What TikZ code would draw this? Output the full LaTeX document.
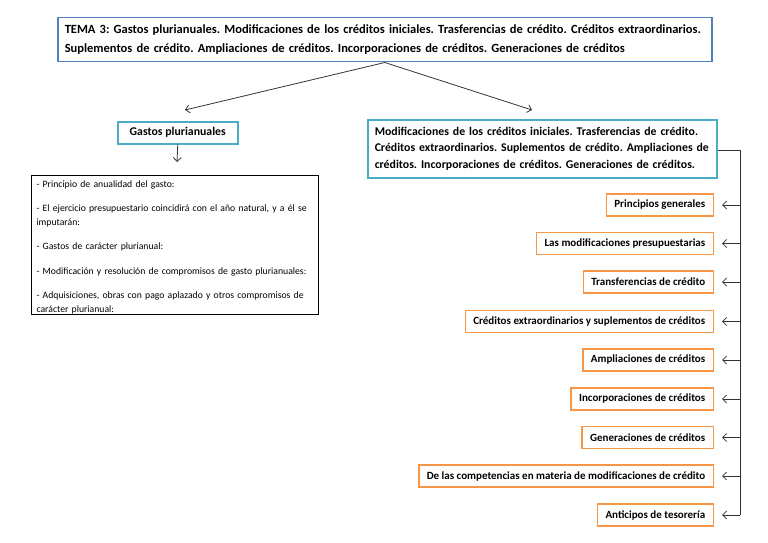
\documentclass[tikz,border=0pt]{standalone}
\usepackage{fontspec}
\setmainfont{Carlito}
\usetikzlibrary{arrows.meta}
\definecolor{titleblue}{HTML}{4F81BD}
\definecolor{lblue}{HTML}{4BACC6}
\definecolor{orng}{HTML}{F79646}
\frenchspacing
\hyphenpenalty=10000
\begin{document}
\begin{tikzpicture}[x=1pt,y=-1pt,
  titlebox/.style={draw=titleblue,line width=1.5pt,anchor=north west,inner xsep=7pt,inner ysep=0pt,text width=640pt,minimum height=44pt,align=left,font=\bfseries\fontsize{12.5}{19}\selectfont},
  bluebox/.style={draw=lblue,line width=1.5pt,inner ysep=0pt,align=left,font=\bfseries\fontsize{11.8}{16.2}\selectfont},
  textbox/.style={draw=black,line width=1pt,anchor=north west,inner xsep=5pt,inner ysep=0pt,text width=277pt,minimum height=138pt,align=left,font=\fontsize{9.7}{14}\selectfont},
  obox/.style={draw=orng,line width=1.5pt,anchor=east,minimum height=22pt,inner xsep=8pt,inner ysep=0pt,font=\bfseries\fontsize{11}{12}\selectfont},
  arr/.style={-{Straight Barb[length=4pt,width=8pt]},line width=0.8pt,draw=black!80},
  spine/.style={line width=0.8pt,draw=black!80}]
\useasboundingbox (0,0) rectangle (768,543);
\node[titlebox] (title) at (57,17) {TEMA 3: Gastos plurianuales. Modificaciones de los créditos iniciales. Trasferencias de crédito. Créditos extraordinarios.\\Suplementos de crédito. Ampliaciones de créditos. Incorporaciones de créditos. Generaciones de créditos};
\node[bluebox,anchor=north west,minimum width=120pt,minimum height=22pt,align=center] (gp) at (117,121) {Gastos plurianuales};
\node[bluebox,anchor=north west,text width=335pt,inner xsep=7pt,minimum height=58pt] (mod) at (367,119) {Modificaciones de los créditos iniciales. Trasferencias de crédito.\\Créditos extraordinarios. Suplementos de crédito. Ampliaciones de\\créditos. Incorporaciones de créditos. Generaciones de créditos.};
\coordinate (gptip) at (185,110);
\coordinate (modtip) at (532,110);
\draw[arr] (title.south) -- (gptip);
\draw[arr] (title.south) -- (modtip);
\node[textbox] (txt) at (31,175) {\rule{0pt}{12pt}- Principio de anualidad del gasto:\\[10pt]
- El ejercicio presupuestario coincidirá con el año natural, y a él se\\imputarán:\\[10pt]
- Gastos de carácter plurianual:\\[11pt]
- Modificación y resolución de compromisos de gasto plurianuales:\\[10pt]
- Adquisiciones, obras con pago aplazado y otros compromisos de\\carácter plurianual:};
\coordinate (gpdown) at (177,162);
\draw[arr] (gp.south) -- (gpdown);
% orange boxes
\node[obox] (o1) at (714,205) {Principios generales};
\node[obox] (o2) at (714,243.5) {Las modificaciones presupuestarias};
\node[obox] (o3) at (714,282) {Transferencias de crédito};
\node[obox] (o4) at (714,321.5) {Créditos extraordinarios y suplementos de créditos};
\node[obox] (o5) at (714,360) {Ampliaciones de créditos};
\node[obox] (o6) at (714,399) {Incorporaciones de créditos};
\node[obox] (o7) at (714,437.5) {Generaciones de créditos};
\node[obox] (o8) at (714,476) {De las competencias en materia de modificaciones de crédito};
\node[obox] (o9) at (714,515) {Anticipos de tesorería};
\coordinate (sp0) at (740,150);
\coordinate (sp9) at (740,515);
\draw[spine] (mod.east |- sp0) -- (sp0) -- (sp9);
\foreach \i in {1,...,9}{
  \draw[arr] (740,0 |- o\i.east) -- ([xshift=8pt]o\i.east);
}
\end{tikzpicture}
\end{document}
